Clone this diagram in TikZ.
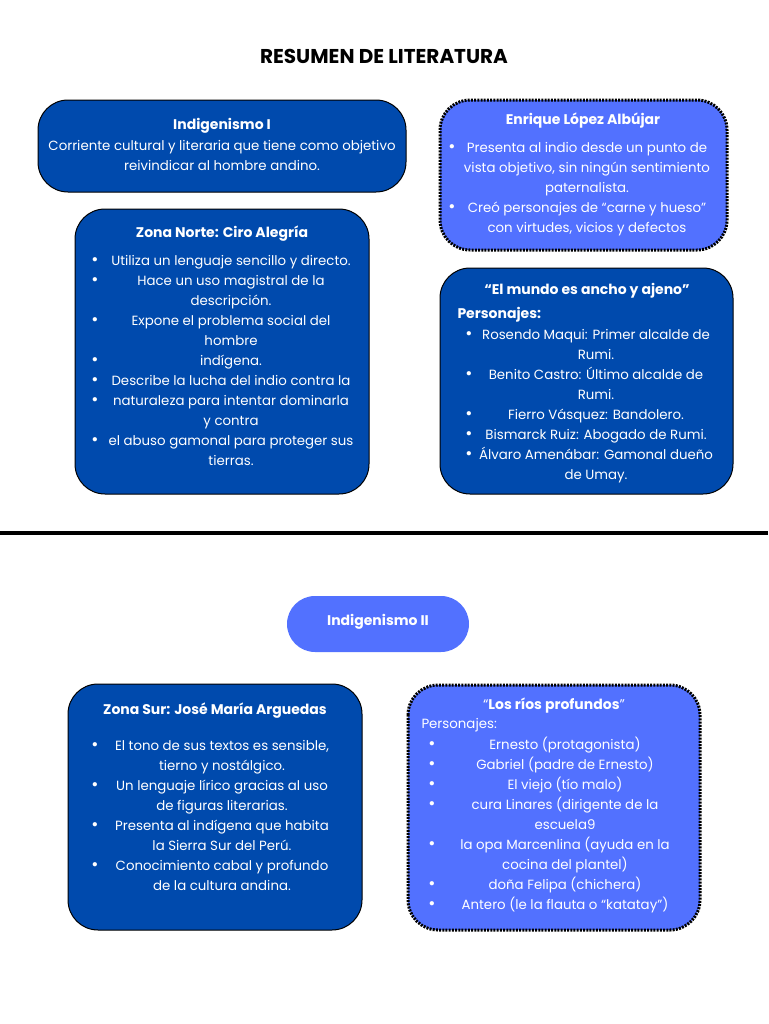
\documentclass[tikz,border=0pt]{standalone}
\usepackage{fontspec}
\setmainfont{Poppins}

\begin{document}
\tikzset{every picture/.style={line width=0.75pt}}
\tikzset{
  darkbox/.style={draw={rgb, 255:red, 0; green, 0; blue, 0 }, draw opacity=1, fill={rgb, 255:red, 0; green, 74; blue, 173 }, fill opacity=1},
  lightbox/.style={draw={rgb, 255:red, 0; green, 0; blue, 0 }, draw opacity=1, fill={rgb, 255:red, 82; green, 113; blue, 255 }, fill opacity=1, dash pattern={on 1.5pt off 0.9pt}, line width=2.25},
  headtxt/.style={color=white, inner sep=0.75pt, font=\bfseries\fontsize{10.5}{15}\selectfont},
  bodytxt/.style={color=white, inner sep=0pt, anchor=north, align=center, font=\fontsize{10}{15}\selectfont},
  bullettxt/.style={bodytxt, font=\fontsize{13}{15}\selectfont},
}

\begin{tikzpicture}[x=0.75pt,y=0.75pt,yscale=-1,xscale=1]
\useasboundingbox (0,0) rectangle (768,1024);

%Rounded Rect [id:indig1]
\draw [darkbox] (38,130) .. controls (38,113.43) and (51.43,100) .. (68,100) -- (376,100) .. controls (392.57,100) and (406,113.43) .. (406,130) -- (406,162) .. controls (406,178.57) and (392.57,192) .. (376,192) -- (68,192) .. controls (51.43,192) and (38,178.57) .. (38,162) -- cycle ;
%Rounded Rect [id:albujar]
\draw [lightbox] (440,130) .. controls (440,113.43) and (453.43,100) .. (470,100) -- (697,100) .. controls (713.57,100) and (727,113.43) .. (727,130) -- (727,220) .. controls (727,236.57) and (713.57,250) .. (697,250) -- (470,250) .. controls (453.43,250) and (440,236.57) .. (440,220) -- cycle ;
%Rounded Rect [id:norte]
\draw [darkbox] (75,239) .. controls (75,222.43) and (88.43,209) .. (105,209) -- (339,209) .. controls (355.57,209) and (369,222.43) .. (369,239) -- (369,464) .. controls (369,480.57) and (355.57,494) .. (339,494) -- (105,494) .. controls (88.43,494) and (75,480.57) .. (75,464) -- cycle ;
%Rounded Rect [id:mundo]
\draw [darkbox] (440,298) .. controls (440,281.43) and (453.43,268) .. (470,268) -- (703,268) .. controls (719.57,268) and (733,281.43) .. (733,298) -- (733,464) .. controls (733,480.57) and (719.57,494) .. (703,494) -- (470,494) .. controls (453.43,494) and (440,480.57) .. (440,464) -- cycle ;
%Straight Lines [id:separador]
\draw [line width=3] (0,533) -- (768,533) ;
%Rounded Rect [id:indig2]
\draw [draw opacity=0, fill={rgb, 255:red, 82; green, 113; blue, 255 }, fill opacity=1] (287,624) .. controls (287,608.54) and (299.54,596) .. (315,596) -- (441,596) .. controls (456.46,596) and (469,608.54) .. (469,624) .. controls (469,639.46) and (456.46,652) .. (441,652) -- (315,652) .. controls (299.54,652) and (287,639.46) .. (287,624) -- cycle ;
%Rounded Rect [id:sur]
\draw [darkbox] (68,714) .. controls (68,697.43) and (81.43,684) .. (98,684) -- (332,684) .. controls (348.57,684) and (362,697.43) .. (362,714) -- (362,900) .. controls (362,916.57) and (348.57,930) .. (332,930) -- (98,930) .. controls (81.43,930) and (68,916.57) .. (68,900) -- cycle ;
%Rounded Rect [id:rios]
\draw [lightbox] (408,715) .. controls (408,698.43) and (421.43,685) .. (438,685) -- (670,685) .. controls (686.57,685) and (700,698.43) .. (700,715) -- (700,900) .. controls (700,916.57) and (686.57,930) .. (670,930) -- (438,930) .. controls (421.43,930) and (408,916.57) .. (408,900) -- cycle ;

% Text Node
\draw (384,56) node [inner sep=0.75pt, font=\bfseries\fontsize{15}{18}\selectfont] (titulo) {RESUMEN DE LITERATURA};
% Text Node
\draw (222,126) node [headtxt] (hIndUno) {Indigenismo I};
% Text Node
\draw (222,136) node [bodytxt] (tIndUno) {\strut Corriente cultural y literaria que tiene como objetivo\\reivindicar al hombre andino.};
% Text Node
\draw (583,121) node [headtxt] (hAlbujar) {Enrique López Albújar};
% Text Node
\draw (587,138) node [bodytxt] (tAlbujar) {\strut Presenta al indio desde un punto de\\vista objetivo, sin ningún sentimiento\\paternalista.\\Creó personajes de “carne y hueso”\\con virtudes, vicios y defectos};
% Text Node
\draw (452,138) node [bullettxt] (bAlbujar) {\strut\textbullet\\{}\\{}\\\textbullet\\{}};
% Text Node
\draw (222,234) node [headtxt] (hNorte) {Zona Norte: Ciro Alegría};
% Text Node
\draw (231,251) node [bodytxt] (tNorte) {\strut Utiliza un lenguaje sencillo y directo.\\Hace un uso magistral de la\\descripción.\\Expone el problema social del\\hombre\\indígena.\\Describe la lucha del indio contra la\\naturaleza para intentar dominarla\\y contra\\el abuso gamonal para proteger sus\\tierras.};
% Text Node
\draw (95,251) node [bullettxt] (bNorte) {\strut\textbullet\\\textbullet\\{}\\\textbullet\\{}\\\textbullet\\\textbullet\\\textbullet\\{}\\\textbullet\\{}};
% Text Node
\draw (587,291) node [headtxt] (hMundo) {“El mundo es ancho y ajeno”};
% Text Node
\draw (456,315) node [headtxt, anchor=west] (pMundo) {Personajes:};
% Text Node
\draw (596,325) node [bodytxt] (tMundo) {\strut Rosendo Maqui: Primer alcalde de\\Rumi.\\Benito Castro: Último alcalde de\\Rumi.\\Fierro Vásquez: Bandolero.\\Bismarck Ruiz: Abogado de Rumi.\\Álvaro Amenábar: Gamonal dueño\\de Umay.};
% Text Node
\draw (469,325) node [bullettxt] (bMundo) {\strut\textbullet\\{}\\\textbullet\\{}\\\textbullet\\\textbullet\\\textbullet\\{}};
% Text Node
\draw (378,622) node [headtxt] (hIndDos) {Indigenismo II};
% Text Node
\draw (215,711) node [headtxt] (hSur) {Zona Sur: José María Arguedas};
% Text Node
\draw (222,736) node [bodytxt] (tSur) {\strut El tono de sus textos es sensible,\\tierno y nostálgico.\\Un lenguaje lírico gracias al uso\\de figuras literarias.\\Presenta al indígena que habita\\la Sierra Sur del Perú.\\Conocimiento cabal y profundo\\de la cultura andina.};
% Text Node
\draw (95,736) node [bullettxt] (bSur) {\strut\textbullet\\{}\\\textbullet\\{}\\\textbullet\\{}\\\textbullet\\{}};
% Text Node
\draw (554,706) node [headtxt] (hRios) {{\mdseries “}Los ríos profundos{\mdseries ”}};
% Text Node
\draw (420,725) node [bodytxt, anchor=west, inner sep=0.75pt] (pRios) {Personajes:};
% Text Node
\draw (565,735) node [bodytxt] (tRios) {\strut Ernesto (protagonista)\\Gabriel (padre de Ernesto)\\El viejo (tío malo)\\cura Linares (dirigente de la\\escuela9\\la opa Marcenlina (ayuda en la\\cocina del plantel)\\doña Felipa (chichera)\\Antero (le la flauta o “katatay”)};
% Text Node
\draw (432,735) node [bullettxt] (bRios) {\strut\textbullet\\\textbullet\\\textbullet\\\textbullet\\{}\\\textbullet\\{}\\\textbullet\\\textbullet};

\end{tikzpicture}
\end{document}
